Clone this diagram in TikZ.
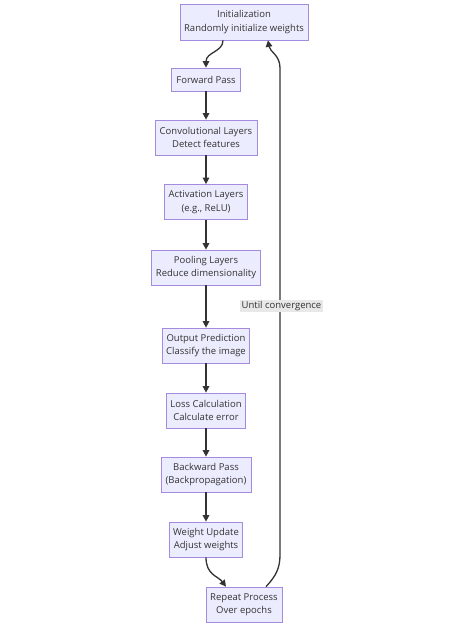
\documentclass[tikz,border=0pt]{standalone}
\usepackage{fontspec}
\setmainfont{Open Sans}
\usetikzlibrary{arrows.meta}
\begin{document}
\begin{tikzpicture}[x=1pt,y=-1pt,
  box/.style={draw=mmstroke,fill=mmfill,line width=0.7pt,align=center,inner sep=0pt,font=\fontsize{9.5}{13.5}\selectfont,text=mmtext},
  conn/.style={draw=mmedge,line width=1.3pt,-{Triangle[length=6.5pt,width=6.5pt]}},
  lbl/.style={fill=mmlabel,inner sep=1.5pt,font=\fontsize{9.5}{11}\selectfont,text=mmtext}]
\definecolor{mmfill}{HTML}{ECECFF}
\definecolor{mmstroke}{HTML}{A58BE0}
\definecolor{mmedge}{HTML}{333333}
\definecolor{mmtext}{HTML}{333333}
\definecolor{mmlabel}{HTML}{E8E8E8}
\useasboundingbox (0,0) rectangle (474,625);
\fill[white] (0,0) rectangle (474,625);
\node[box,minimum width=128pt,minimum height=36pt] (init) at (244,22) {Initialization\\Randomly initialize weights};
\node[box,minimum width=69pt,minimum height=23pt] (fwd) at (206,79.5) {Forward Pass};
\node[box,minimum width=102pt,minimum height=35pt] (conv) at (206,137.5) {Convolutional Layers\\Detect features};
\node[box,minimum width=83pt,minimum height=35pt] (act) at (206,202) {Activation Layers\\(e.g., ReLU)};
\node[box,minimum width=109pt,minimum height=35pt] (pool) at (206,267.5) {Pooling Layers\\Reduce dimensionality};
\node[box,minimum width=87pt,minimum height=35pt] (out) at (206,345.5) {Output Prediction\\Classify the image};
\node[box,minimum width=79pt,minimum height=35pt] (loss) at (206,410.5) {Loss Calculation\\Calculate error};
\node[box,minimum width=90pt,minimum height=35pt] (bwd) at (206,474.5) {Backward Pass\\(Backpropagation)};
\node[box,minimum width=73pt,minimum height=35pt] (upd) at (206,539.5) {Weight Update\\Adjust weights};
\node[box,minimum width=76pt,minimum height=35pt] (rep) at (244,604.5) {Repeat Process\\Over epochs};
\coordinate (initout) at (init.south -| 223,0);
\coordinate (initin) at (init.south -| 268,0);
\coordinate (repout) at (rep.north -| 266,0);
\coordinate (repin) at (rep.north -| 226,0);
\draw[conn] (initout) .. controls (223,52) and (206,52) .. (fwd.north);
\draw[conn] (fwd) -- (conv);
\draw[conn] (conv) -- (act);
\draw[conn] (act) -- (pool);
\draw[conn] (pool) -- (out);
\draw[conn] (out) -- (loss);
\draw[conn] (loss) -- (bwd);
\draw[conn] (bwd) -- (upd);
\draw[conn] (upd.south) .. controls (206,575) and (218,576) .. (repin);
\draw[conn] (repout) .. controls (276,576) and (280,568) .. (280,555) -- (280,68) .. controls (280,55) and (270,52) .. (initin);
\node[lbl] (until) at (281.5,306) {Until convergence};
\end{tikzpicture}
\end{document}
